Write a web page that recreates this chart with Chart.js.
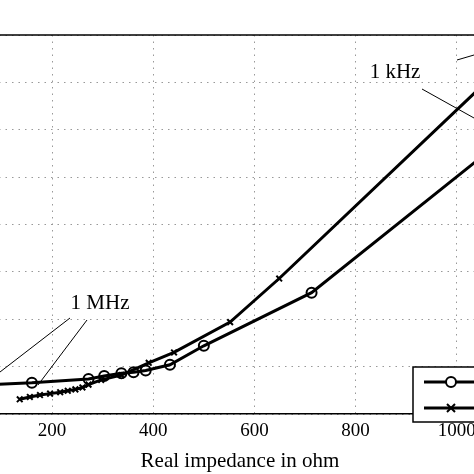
<!DOCTYPE html>
<html>
<head>
<script src="https://cdn.jsdelivr.net/npm/chart.js@4"></script>
<style>body{margin:0;background:#fff;overflow:hidden}#c{display:block;margin-left:-8px}</style>
</head>
<body>
<canvas id="c" width="496" height="474"></canvas>
<script>
// circle series (lower curve at high impedance)
var circleX = [75, 160, 272, 303, 337, 361, 385, 433, 500, 713, 1081];
var circleY = [31, 33, 37, 40, 43, 44, 46, 52, 72, 128, 285];
// cross series
var crossX = [136, 156, 176, 196, 216, 231, 246, 260, 272, 297, 337, 391, 441, 552, 649, 1081];
var crossY = [15.5, 18, 20, 21.5, 23, 24.5, 26, 28, 31, 36, 41, 54, 65, 97, 143, 362];
var xTicks = [200, 400, 600, 800, 1000];

function pts(xs, ys) { return xs.map(function (x, i) { return { x: x, y: ys[i] }; }); }

var notes = {
  id: "notes",
  afterDraw: function (chart) {
    var c = chart.ctx, a = chart.chartArea;
    c.save();
    c.translate(8, 0);
    c.strokeStyle = "#000";
    c.lineWidth = 1.5;
    c.beginPath(); c.moveTo(-8, a.top); c.lineTo(480, a.top); c.stroke();
    c.lineWidth = 1;
    c.beginPath();
    c.moveTo(70, 318); c.lineTo(0, 372);
    c.moveTo(87, 320); c.lineTo(38, 385);
    c.moveTo(422, 89); c.lineTo(474, 118);
    c.moveTo(457, 60); c.lineTo(474, 55);
    c.stroke();
    c.fillStyle = "#000";
    c.font = "21px 'Liberation Serif'";
    c.textAlign = "center"; c.textBaseline = "middle";
    c.fillText("1 MHz", 100, 303);
    c.fillText("1 kHz", 395, 72);
    // legend box
    c.fillStyle = "#fff";
    c.fillRect(413, 367, 70, 55);
    c.lineWidth = 1.5;
    c.strokeRect(413, 367, 70, 55);
    c.lineWidth = 3;
    c.beginPath();
    c.moveTo(424, 382); c.lineTo(474, 382);
    c.moveTo(424, 408); c.lineTo(474, 408);
    c.stroke();
    c.lineWidth = 2;
    c.beginPath(); c.arc(451, 382, 5, 0, Math.PI * 2); c.fillStyle = "#fff"; c.fill(); c.stroke();
    c.beginPath();
    c.moveTo(447, 404); c.lineTo(455, 412); c.moveTo(455, 404); c.lineTo(447, 412);
    c.stroke();
    c.restore();
  }
};

new Chart(document.getElementById("c"), {
  type: "line",
  data: {
    datasets: [
      {
        data: pts(circleX, circleY),
        borderColor: "#000", borderWidth: 3,
        pointStyle: "circle", pointRadius: 5, pointBorderWidth: 2,
        pointBackgroundColor: "rgba(255,255,255,0)", pointBorderColor: "#000"
      },
      {
        data: pts(crossX, crossY),
        borderColor: "#000", borderWidth: 3,
        pointStyle: "crossRot", pointRadius: 4, pointBorderWidth: 2,
        pointBorderColor: "#000"
      }
    ]
  },
  options: {
    responsive: false,
    animation: false,
    layout: { padding: { top: 35, left: 0, right: 0, bottom: 0 } },
    plugins: { legend: { display: false }, tooltip: { enabled: false } },
    scales: {
      x: {
        type: "linear", min: 95, max: 1048,
        afterBuildTicks: function (s) { s.ticks = xTicks.map(function (v) { return { value: v }; }); },
        grid: { color: "#999", drawTicks: false },
        border: { color: "#000", width: 1.5, dash: [1.5, 5] },
        ticks: { color: "#000", padding: 6, font: { family: "Liberation Serif", size: 19 },
          callback: function (v) { return String(v); } },
        title: { display: true, text: "Real impedance in ohm", color: "#000", padding: 0,
          font: { family: "Liberation Serif", size: 21 } }
      },
      y: {
        min: 0, max: 400,
        afterFit: function (s) { s.width = 0; },
        ticks: { display: false, stepSize: 50 },
        grid: { color: "#999", drawTicks: false },
        border: { display: false, dash: [1.5, 5] }
      }
    }
  },
  plugins: [notes]
});
</script>
</body>
</html>
